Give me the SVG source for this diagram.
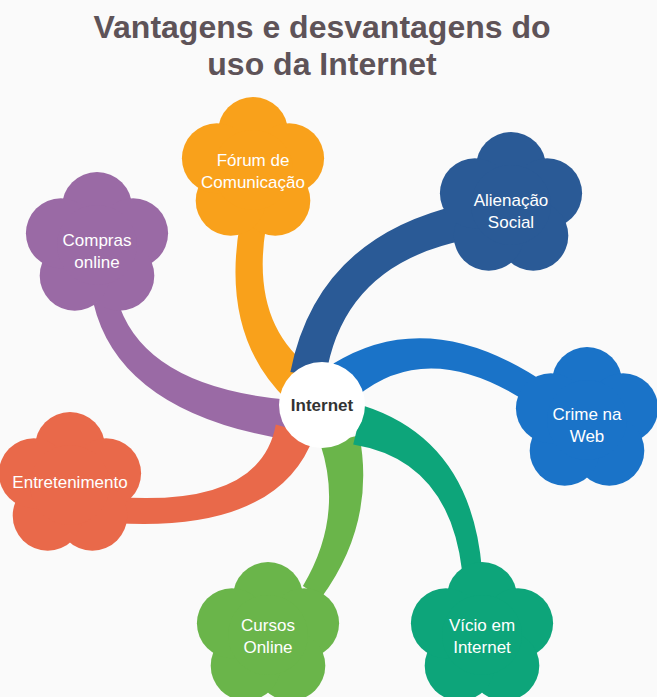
<svg xmlns="http://www.w3.org/2000/svg" xmlns:xlink="http://www.w3.org/1999/xlink" width="657" height="697" viewBox="0 0 657 697">
<defs>
<style>
.t{font-family:"Liberation Sans",Arial,sans-serif;font-size:17px;fill:#fff;text-anchor:middle}
.title{font-family:"Liberation Sans",Arial,sans-serif;font-size:32px;font-weight:bold;fill:#5e5358;text-anchor:middle}
</style>
<g id="flower">
<circle cx="0" cy="-38" r="35"/><circle cx="36.1" cy="-11.7" r="35"/><circle cx="22.3" cy="30.7" r="35"/><circle cx="-22.3" cy="30.7" r="35"/><circle cx="-36.1" cy="-11.7" r="35"/><circle cx="0" cy="0" r="40"/>
</g>
</defs>
<rect width="657" height="697" fill="#fafafa"/>
<text class="title" x="322" y="38">Vantagens e desvantagens do</text>
<text class="title" x="322" y="75">uso da Internet</text>
<g id="connectors">
<path fill="#9a6aa5" d="M93.4,302.9 Q119,412 287.6,439.8 L292.4,400.2 Q141,388 116.6,297.1 Z"/>
<path fill="#f9a11b" d="M240.1,222.8 Q220,335.4 287,400.2 L313,369.8 Q250,324.6 265.9,227.2 Z"/>
<path fill="#2a5a96" d="M461.4,204.4 Q317,237 290.4,371.9 L325.6,378.1 Q343,263 468.6,239.6 Z"/>
<path fill="#1a73c8" d="M547.3,384.2 Q430,304 333.4,363.6 L356.6,396.4 Q430,336 532.7,405.8 Z"/>
<path fill="#e9694a" d="M114.2,523 Q279,533 314.2,435.4 L275.8,424.6 Q261,507 115.8,497 Z"/>
<path fill="#6ab54a" d="M321.1,598 Q376,523 359.4,435.2 L320.6,444.8 Q344,517 302.9,586 Z"/>
<path fill="#0da57a" d="M481.9,569 Q471,440 362.8,405.6 L353.2,444.4 Q449,460 462.1,571 Z"/>
</g>
<g id="forum"><use xlink:href="#flower" href="#flower" transform="translate(253,170)" fill="#f9a11b"/><text class="t" x="253" y="166">Fórum de</text><text class="t" x="253" y="188">Comunicação</text></g>
<g id="compras"><use xlink:href="#flower" href="#flower" transform="translate(97,245)" fill="#9a6aa5"/><text class="t" x="97" y="246">Compras</text><text class="t" x="97" y="268">online</text></g>
<g id="alienacao"><use xlink:href="#flower" href="#flower" transform="translate(511,205)" fill="#2a5a96"/><text class="t" x="511" y="206">Alienação</text><text class="t" x="511" y="228">Social</text></g>
<g id="crime"><use xlink:href="#flower" href="#flower" transform="translate(587,420)" fill="#1a73c8"/><text class="t" x="587" y="420">Crime na</text><text class="t" x="587" y="442">Web</text></g>
<g id="entretenimento"><use xlink:href="#flower" href="#flower" transform="translate(70,485)" fill="#e9694a"/><text class="t" x="70" y="488">Entretenimento</text></g>
<g id="cursos"><use xlink:href="#flower" href="#flower" transform="translate(268,635)" fill="#6ab54a"/><text class="t" x="268" y="631">Cursos</text><text class="t" x="268" y="653">Online</text></g>
<g id="vicio"><use xlink:href="#flower" href="#flower" transform="translate(482,635)" fill="#0da57a"/><text class="t" x="482" y="631">Vício em</text><text class="t" x="482" y="653">Internet</text></g>
<g id="internet"><circle cx="322" cy="405" r="43" fill="#fff"/><text x="322" y="411" text-anchor="middle" style="font-family:'Liberation Sans',Arial,sans-serif;font-size:17px;font-weight:bold;fill:#333">Internet</text></g>
</svg>
